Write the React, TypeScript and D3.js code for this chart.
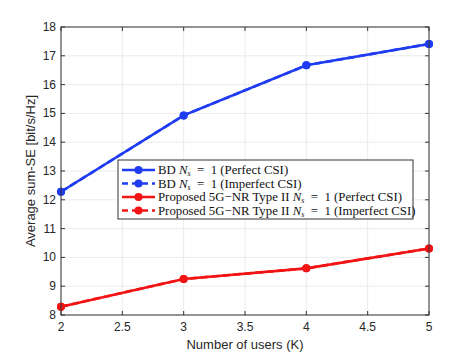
import React from "react";
import * as d3 from "d3";

const users = [2, 3, 4, 5];
const bdPerfect = [12.28, 14.93, 16.67, 17.41];
const bdImperfect = [12.28, 14.93, 16.67, 17.41];
const nrPerfect = [8.29, 9.25, 9.62, 10.31];
const nrImperfect = [8.29, 9.25, 9.62, 10.31];
const xTicks = [2, 2.5, 3, 3.5, 4, 4.5, 5];
const yTicks = [8, 9, 10, 11, 12, 13, 14, 15, 16, 17, 18];

const BLUE = "#1f3cf2";
const RED = "#f21414";

const W = 474, H = 355;
const M = { left: 61, right: 45, top: 27, bottom: 40 };

export default function App() {
  const x = d3.scaleLinear().domain([2, 5]).range([M.left, W - M.right]);
  const y = d3.scaleLinear().domain([8, 18]).range([H - M.bottom, M.top]);
  const line = d3.line<number>().x((_, i) => x(users[i])).y((d) => y(d));

  const series = [
    { data: bdImperfect, color: BLUE, dash: "7,4" },
    { data: bdPerfect, color: BLUE, dash: null },
    { data: nrImperfect, color: RED, dash: "7,4" },
    { data: nrPerfect, color: RED, dash: null },
  ];

  const legend = [
    { color: BLUE, dash: null, pre: "BD ", post: " (Perfect CSI)" },
    { color: BLUE, dash: "6,4", pre: "BD ", post: " (Imperfect CSI)" },
    { color: RED, dash: null, pre: "Proposed 5G\u2212NR Type II ", post: " (Perfect CSI)" },
    { color: RED, dash: "6,4", pre: "Proposed 5G\u2212NR Type II ", post: " (Imperfect CSI)" },
  ];

  const x0 = M.left, x1 = W - M.right, y0 = M.top, y1 = H - M.bottom;
  const tickLen = 4;
  const lg = { x: 118, y: 160, w: 295, h: 59 };

  return (
    <svg width={W} height={H} style={{ position: "absolute", left: 0, top: 0, background: "#fff" }}>
      <rect x={0} y={0} width={W} height={H} fill="#fff" />
      {xTicks.map((t) => (
        <line key={"gx" + t} x1={x(t)} x2={x(t)} y1={y0} y2={y1} stroke="#e6e6e6" strokeWidth={0.8} />
      ))}
      {yTicks.map((t) => (
        <line key={"gy" + t} x1={x0} x2={x1} y1={y(t)} y2={y(t)} stroke="#e6e6e6" strokeWidth={0.8} />
      ))}
      {xTicks.map((t) => (
        <g key={"tx" + t}>
          <line x1={x(t)} x2={x(t)} y1={y1} y2={y1 - tickLen} stroke="#333" />
          <line x1={x(t)} x2={x(t)} y1={y0} y2={y0 + tickLen} stroke="#333" />
          <text x={x(t)} y={y1 + 16} textAnchor="middle" fontFamily="Liberation Sans, Arial, sans-serif" fontSize={12} fill="#262626">
            {String(t)}
          </text>
        </g>
      ))}
      {yTicks.map((t) => (
        <g key={"ty" + t}>
          <line x1={x0} x2={x0 + tickLen} y1={y(t)} y2={y(t)} stroke="#333" />
          <line x1={x1} x2={x1 - tickLen} y1={y(t)} y2={y(t)} stroke="#333" />
          <text x={x0 - 5} y={y(t) + 4} textAnchor="end" fontFamily="Liberation Sans, Arial, sans-serif" fontSize={12} fill="#262626">
            {String(t)}
          </text>
        </g>
      ))}
      {series.map((s, k) => (
        <g key={"s" + k}>
          <path d={line(s.data) || ""} fill="none" stroke={s.color} strokeWidth={2.6} strokeDasharray={s.dash || undefined} />
          {s.data.map((v, i) => (
            <circle key={i} cx={x(users[i])} cy={y(v)} r={4} fill={s.color} />
          ))}
        </g>
      ))}
      <rect x={x0} y={y0} width={x1 - x0} height={y1 - y0} fill="none" stroke="#333" strokeWidth={1} />
      <text x={(x0 + x1) / 2} y={H - 6} textAnchor="middle" fontFamily="Liberation Sans, Arial, sans-serif" fontSize={13} fill="#262626">
        Number of users (K)
      </text>
      <text transform={`translate(35,${(y0 + y1) / 2}) rotate(-90)`} textAnchor="middle" fontFamily="Liberation Sans, Arial, sans-serif" fontSize={13} fill="#262626">
        Average sum-SE [bit/s/Hz]
      </text>
      <rect x={lg.x} y={lg.y} width={lg.w} height={lg.h} fill="#fff" stroke="#333" strokeWidth={1} />
      {legend.map((l, i) => {
        const ly = lg.y + 10 + i * 13.5;
        return (
          <g key={"l" + i}>
            <line x1={lg.x + 4} x2={lg.x + 37} y1={ly} y2={ly} stroke={l.color} strokeWidth={2.6} strokeDasharray={l.dash || undefined} />
            <circle cx={lg.x + 20.5} cy={ly} r={4} fill={l.color} />
            <text x={lg.x + 40} y={ly + 4.2} fontFamily="Liberation Serif, Times New Roman, serif" fontSize={12.8} fill="#111">
              {l.pre}
              <tspan fontStyle="italic">N</tspan>
              <tspan fontStyle="italic" fontSize={8} dy={2}>s</tspan>
              <tspan dy={-2}>{"\u2002=\u20021" + l.post}</tspan>
            </text>
          </g>
        );
      })}
    </svg>
  );
}
